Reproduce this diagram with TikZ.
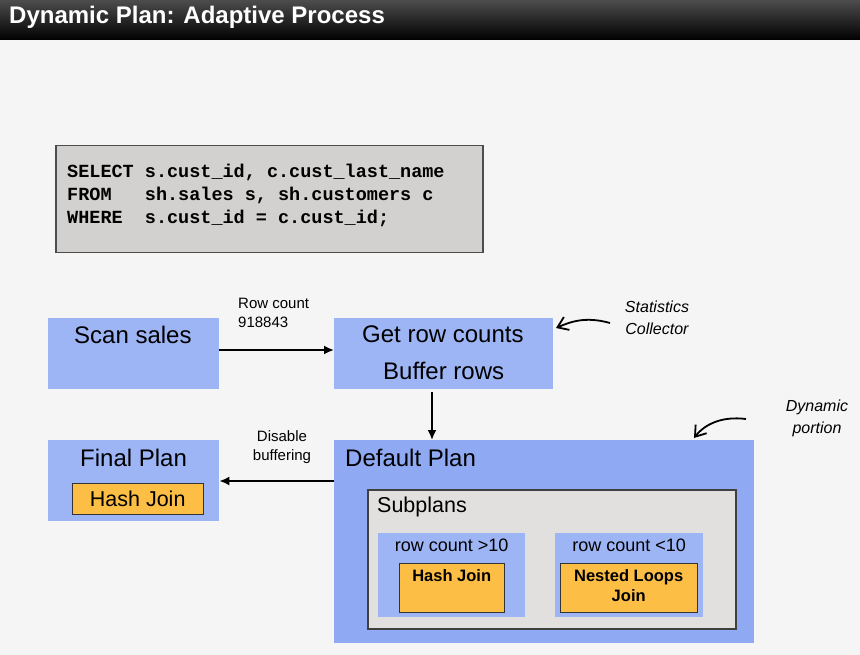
\documentclass[tikz,border=0pt]{standalone}
\usepackage{fontspec}
\setmainfont{Liberation Sans}
\setmonofont{Liberation Mono}
\usetikzlibrary{arrows.meta,positioning}

\definecolor{boxblue}{HTML}{9DB4F5}
\definecolor{deepblue}{HTML}{8FA9F2}
\definecolor{sqlgray}{HTML}{D3D1CF}
\definecolor{subgray}{HTML}{E2E0DE}
\definecolor{joinorange}{HTML}{FDBE45}

\tikzset{
  blk/.style={draw=none, inner sep=0pt, anchor=north west},
  txt/.style={inner sep=0pt, anchor=north west, font=\fontsize{24}{26}\selectfont},
  lbl/.style={inner sep=0pt, align=left, anchor=north west, font=\fontsize{15}{19}\selectfont},
  hand/.style={inner sep=0pt, align=center, font=\fontsize{16}{22}\itshape\selectfont},
  flow/.style={-{Latex[length=10pt,width=9pt]}, line width=1.8pt},
  pen/.style={-{Straight Barb[length=10pt,width=14pt]}, line width=1.8pt}
}

\begin{document}
\begin{tikzpicture}[x=1pt,y=-1pt]

\useasboundingbox (0,0) rectangle (860,655);
\fill[white!96!black] (0,0) rectangle (860,655);
\shade[top color=black!70, bottom color=black] (0,0) rectangle (860,40);
\node[txt, text=white, font=\fontsize{24}{26}\bfseries\selectfont] (title) at (9,6) {Dynamic Plan: Adaptive Process};

% sql
\node[blk, fill=sqlgray, draw=black!70, line width=1.5pt, minimum width=427pt, minimum height=107pt] (sql) at (55,145) {};
\node[lbl, font=\fontsize{18.5}{23}\ttfamily\bfseries\selectfont] (query) at (67,164)
  {SELECT s.cust\_id, c.cust\_last\_name\\FROM~~~sh.sales s, sh.customers c\\WHERE~~s.cust\_id = c.cust\_id;};

% top row
\node[blk, fill=boxblue, minimum width=171pt, minimum height=71pt] (scan) at (48,318) {};
\node[txt] (scantxt) at (74,326) {Scan sales};
\node[blk, fill=boxblue, minimum width=219pt, minimum height=71pt] (get) at (334,318) {};
\node[txt] (gettxt) at (362,326) {Get row counts};
\node[txt] (buftxt) at (383,362) {Buffer rows};

\draw[flow] (scan.east |- 0,350) -- (get.west |- 0,350);
\node[lbl] (rowcnt) at (238,298) {Row count\\918843};

% dynamic portion
\node[blk, fill=deepblue, minimum width=420pt, minimum height=203pt] (default) at (334,440) {};
\node[txt] (deftxt) at (345,449) {Default Plan};
\draw[flow] (432,392) -- (default.north -| 432,0);

\node[blk, fill=subgray, draw=black!75, line width=1.5pt, minimum width=368pt, minimum height=139pt] (sub) at (367,489) {};
\node[txt, font=\fontsize{21.5}{24}\selectfont] (subtxt) at (377,497) {Subplans};

\node[blk, fill=boxblue, minimum width=147pt, minimum height=84pt] (gt) at (378,533) {};
\node[lbl, font=\fontsize{18}{20}\selectfont, anchor=north] (gttxt) at (gt.north) [yshift=-6pt] {row count >10};
\node[blk, fill=joinorange, draw=black!80, minimum width=105pt, minimum height=49pt] (hj) at (399,563) {};
\node[lbl, font=\fontsize{16.5}{20}\bfseries\selectfont, anchor=north] (hjtxt) at (hj.north) [yshift=-6pt] {Hash Join};

\node[blk, fill=boxblue, minimum width=148pt, minimum height=84pt] (lt) at (555,533) {};
\node[lbl, font=\fontsize{18}{20}\selectfont, anchor=north] (lttxt) at (lt.north) [yshift=-6pt] {row count <10};
\node[blk, fill=joinorange, draw=black!80, minimum width=137pt, minimum height=49pt] (nl) at (560,563) {};
\node[lbl, font=\fontsize{16.5}{20}\bfseries\selectfont, anchor=north, align=center] (nltxt) at (nl.north) [yshift=-6pt] {Nested Loops\\Join};

% final plan
\node[blk, fill=boxblue, minimum width=171pt, minimum height=81pt] (final) at (48,440) {};
\node[txt] (fintxt) at (80,449) {Final Plan};
\node[blk, fill=joinorange, draw=black!80, minimum width=131pt, minimum height=31pt] (fhj) at (72,483) {};
\node[txt, font=\fontsize{21.5}{22}\selectfont, anchor=center] (fhjtxt) at (fhj.center) {Hash Join};

\draw[flow] (default.west |- 0,481) -- (final.east |- 0,481);
\node[lbl, align=center, anchor=north] (disable) at (282,430) {Disable\\buffering};

% hand notes
\node[hand] (stat) at (657,318) {Statistics\\Collector};
\coordinate (statend) at (556,328);
\draw[pen] (610,323) .. controls (585,316) and (570,322) .. (statend);
\node[hand] (dyn) at (817,418) {Dynamic\\portion};
\coordinate (dynend) at (694,438);
\draw[pen] (746,419) .. controls (722,416) and (705,424) .. (dynend);

\end{tikzpicture}
\end{document}
